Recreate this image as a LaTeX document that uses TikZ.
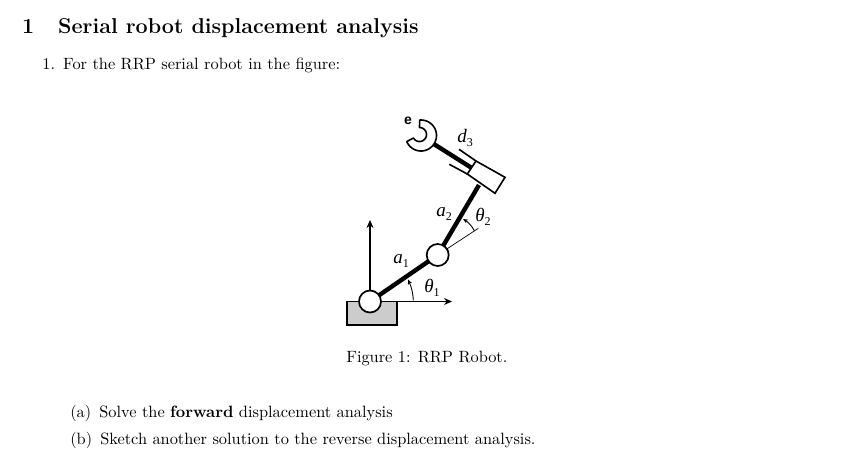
\documentclass[tikz,border=0pt]{standalone}
\usepackage{fontspec}
\newfontfamily\labelserif{Liberation Serif}
\newfontfamily\labelsans{Liberation Sans}
\usetikzlibrary{arrows.meta}
\newcommand{\robotlabel}[2]{{\itshape #1}\raisebox{-3.5pt}{\fontsize{12}{13}\selectfont\upshape #2}}
\tikzset{
  thinline/.style={line width=0.7pt,black},
  axisline/.style={line width=1.2pt,black,-{Stealth[length=8pt,width=7pt]}},
  anglearrow/.style={line width=0.9pt,black,-{Stealth[length=5pt,width=4.2pt]}},
  linkbar/.style={line width=4.4pt,black},
  outline/.style={line width=1.6pt,black},
  joint/.style={circle,draw=black,line width=1.7pt,fill=white,minimum size=22pt,inner sep=0pt},
  basebox/.style={draw=black,line width=1.6pt,fill=black!20},
  page/.style={anchor=base west,inner sep=0pt,scale=1.635,font=\fontsize{10}{12}\selectfont},
  head/.style={anchor=base west,inner sep=0pt,font=\fontsize{21.5}{25}\selectfont\bfseries},
  sym/.style={inner sep=0pt,font=\fontsize{19}{21}\selectfont\labelserif},
}
\begin{document}
\begin{tikzpicture}[x=1pt,y=-1pt]
\useasboundingbox (0,0) rectangle (852,456);
\fill[white] (0,0) rectangle (852,456);
\node[head] (secnum) at (22,33) {1};
\node[head] (sectitle) at (58,33) {Serial robot displacement analysis};
\node[page] (item) at (42,69) {1.\hspace{0.5em}For the RRP serial robot in the figure:};
\node[page] (cap) at (346,362) {Figure 1: RRP Robot.};
\node[page] (ia) at (70,417) {(a)\hspace{0.5em}Solve the \textbf{forward} displacement analysis};
\node[page] (ib) at (70,444) {(b)\hspace{0.5em}Sketch another solution to the reverse displacement analysis.};

\coordinate (j1c) at (370,301.5);
\coordinate (j2c) at (437.7,255);
\coordinate (thinend) at (478.3,228.3);
\coordinate (axisup) at (370,220);
\coordinate (axisright) at (452,301.5);
\draw[basebox] (347,301.5) rectangle (397,325);
\draw[axisline] (j1c) -- (axisup);
\draw[axisline] (j1c) -- (axisright);
\draw[thinline] (j2c) -- (thinend);
\draw[anglearrow] (413.3,300.5) .. controls (413,292) and (411,286) .. (408,279.5);
\draw[anglearrow] (474.5,231) .. controls (472,226) and (468,222) .. (463,219);
\draw[linkbar] (j1c) -- (j2c);
\draw[linkbar] (j2c) -- (479,185);
\draw[linkbar] (471,167.5) -- (433,143.5);
\draw[outline,fill=white] (476,161) -- (505,177.3) -- (495,193.3) -- (467.3,174) -- cycle;
\draw[outline] (459,149.3) -- (476,161);
\draw[outline] (449.3,164.3) -- (467.3,174);
\draw[outline,fill=white,line join=round]
  plot[domain=-95:157,samples=40] ({421+15.5*cos(\x)},{135.5+15.5*sin(\x)})
  -- plot[domain=150:-90,samples=30] ({419.5+7*cos(\x)},{134.5+7*sin(\x)}) -- cycle;
\node[joint] (j1) at (j1c) {};
\node[joint] (j2) at (j2c) {};
\node[inner sep=0pt,font=\fontsize{14}{15}\selectfont\bfseries\labelsans] (e) at (408,120.5) {e};
\node[sym] (d3) at (465,138) {\robotlabel{d}{3}};
\node[sym] (a2) at (444,214) {\robotlabel{a}{2}};
\node[sym] (t2) at (483,217) {\robotlabel{θ}{2}};
\node[sym] (a1) at (401,261) {\robotlabel{a}{1}};
\node[sym] (t1) at (432,288) {\robotlabel{θ}{1}};
\end{tikzpicture}
\end{document}
